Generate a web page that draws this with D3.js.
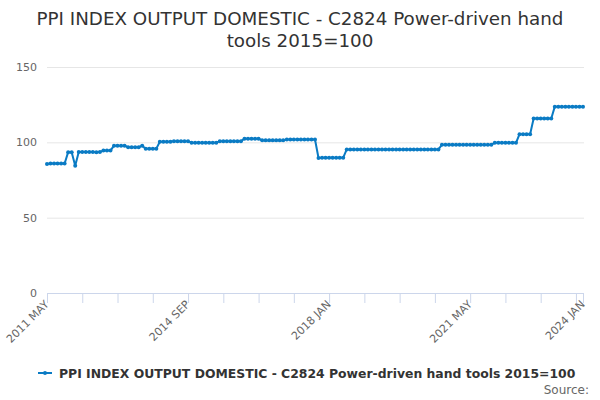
<!DOCTYPE html>
<html>
<head>
<meta charset="utf-8">
<script src="https://cdn.jsdelivr.net/npm/d3@7"></script>
<style>
  body { margin: 0; background: #fff; }
  svg { font-family: "DejaVu Sans", Verdana, sans-serif; }
</style>
</head>
<body>
<svg id="chart" width="600" height="400"></svg>
<script>
// monthly index values, 2011 MAY .. 2024 JAN
const startYear = 2011, startMonth = 4 // zero-based May
const values = [
  85.6, 86, 86, 86, 86, 86, 93.5, 93.5, 84.5, 93.6,
  93.6, 93.6, 93.6, 93.6, 93.4, 93.6, 94.5, 94.5, 94.5, 97.8,
  97.8, 97.8, 97.8, 96.8, 96.8, 96.8, 96.8, 97.8, 95.8, 95.8,
  95.8, 95.8, 100.4, 100.4, 100.4, 100.4, 100.8, 100.8, 100.8, 100.8,
  100.8, 99.8, 99.8, 99.8, 99.8, 99.8, 99.8, 99.8, 99.8, 100.8,
  100.8, 100.8, 100.8, 100.8, 100.8, 100.8, 102.4, 102.4, 102.4, 102.4,
  102.4, 101.3, 101.3, 101.3, 101.3, 101.3, 101.3, 101.3, 101.9, 101.9,
  101.9, 101.9, 101.9, 101.9, 101.9, 101.9, 101.9, 89.6, 89.8, 89.8,
  89.8, 89.8, 89.8, 89.8, 89.8, 95.3, 95.3, 95.3, 95.3, 95.3,
  95.3, 95.3, 95.3, 95.3, 95.3, 95.3, 95.3, 95.3, 95.3, 95.3,
  95.3, 95.3, 95.3, 95.3, 95.3, 95.3, 95.3, 95.3, 95.3, 95.3,
  95.3, 95.3, 98.4, 98.4, 98.4, 98.4, 98.4, 98.4, 98.4, 98.4,
  98.4, 98.4, 98.4, 98.4, 98.4, 98.4, 98.4, 99.7, 99.7, 99.7,
  99.7, 99.7, 99.7, 99.7, 105.4, 105.4, 105.4, 105.4, 115.8, 115.8,
  115.8, 115.8, 115.8, 115.8, 123.7, 123.7, 123.7, 123.7, 123.7, 123.7,
  123.7, 123.7, 123.7
]
const yTicks = [0, 50, 100, 150]
const monthNames = ["JAN","FEB","MAR","APR","MAY","JUN","JUL","AUG","SEP","OCT","NOV","DEC"]
const seriesName = "PPI INDEX OUTPUT DOMESTIC - C2824 Power-driven hand tools 2015=100"
const titleLines = ["PPI INDEX OUTPUT DOMESTIC - C2824 Power-driven hand", "tools 2015=100"]

const label = i => {
  let m = startMonth + i
  return (startYear + Math.floor(m / 12)) + " " + monthNames[m % 12]
}

const margin = {top: 67, right: 16, bottom: 107, left: 47}
const width = 600, height = 400
const last = values.length - 1

const x = d3.scaleLinear()
  .domain([0, last])
  .range([margin.left, width - margin.right - 1])
const y = d3.scaleLinear()
  .domain([0, 150])
  .range([height - margin.bottom, margin.top])

const svg = d3.select("#chart")

// title
svg.append("g")
  .selectAll("text")
  .data(titleLines)
  .join("text")
  .attr("x", width / 2)
  .attr("y", (d, i) => 25 + i * 22)
  .attr("text-anchor", "middle")
  .attr("fill", "#333")
  .attr("font-size", 18.3)
  .text(d => d)

// grid + y labels
const yAxis = g => g
  .attr("transform", `translate(${margin.left},0)`)
  .call(d3.axisLeft(y).tickValues(yTicks).tickSize(-(width - margin.left - margin.right)).tickPadding(10))
  .call(g => g.select(".domain").remove())
  .call(g => g.selectAll(".tick line").attr("stroke", "#e6e6e6"))
  .call(g => g.selectAll(".tick text").attr("fill", "#666").attr("font-size", 11)
    .attr("font-family", "DejaVu Sans, sans-serif"))
svg.append("g").call(yAxis)

// x axis: ticks every 10 months, labels every 40 plus the last
const tickIdx = d3.range(0, last, 10).concat([last])
const labelIdx = d3.range(0, last, 40).concat([last])
const xAxis = g => g
  .attr("transform", `translate(0,${y(0)})`)
  .call(d3.axisBottom(x).tickValues(tickIdx).tickSize(10)
    .tickFormat(i => labelIdx.includes(i) ? label(i) : ""))
  .call(g => g.select(".domain").attr("stroke", "#ccd6eb"))
  .call(g => g.selectAll(".tick line").attr("stroke", "#ccd6eb"))
  .call(g => g.selectAll(".tick text")
    .attr("fill", "#666")
    .attr("font-size", 11)
    .attr("font-family", "DejaVu Sans, sans-serif")
    .attr("text-anchor", "end")
    .attr("transform", "translate(-5,5) rotate(-45)")
    .attr("dy", "0.9em")
    .attr("y", 0)
    .attr("x", 0))
svg.append("g").call(xAxis)

const color = "#0a7bc4"

svg.append("path")
  .datum(values)
  .attr("fill", "none")
  .attr("stroke", color)
  .attr("stroke-width", 2)
  .attr("stroke-linejoin", "round")
  .attr("d", d3.line().x((d, i) => x(i)).y(d => y(d)))

svg.append("g")
  .selectAll("circle")
  .data(values)
  .join("circle")
  .attr("cx", (d, i) => x(i))
  .attr("cy", d => y(d))
  .attr("r", 2)
  .attr("fill", color)

// legend
const legend = svg.append("g").attr("transform", "translate(0,373)")
legend.append("line")
  .attr("x1", 38).attr("x2", 52)
  .attr("stroke", color).attr("stroke-width", 2)
legend.append("circle").attr("cx", 45).attr("r", 2).attr("fill", color)
legend.append("text")
  .attr("x", 59).attr("y", 5)
  .attr("fill", "#333")
  .attr("font-size", 12.4)
  .attr("font-weight", "bold")
  .text(seriesName)

svg.append("text")
  .attr("x", 589).attr("y", 394)
  .attr("text-anchor", "end")
  .attr("fill", "#666")
  .attr("font-size", 12)
  .text("Source:")
</script>
</body>
</html>
